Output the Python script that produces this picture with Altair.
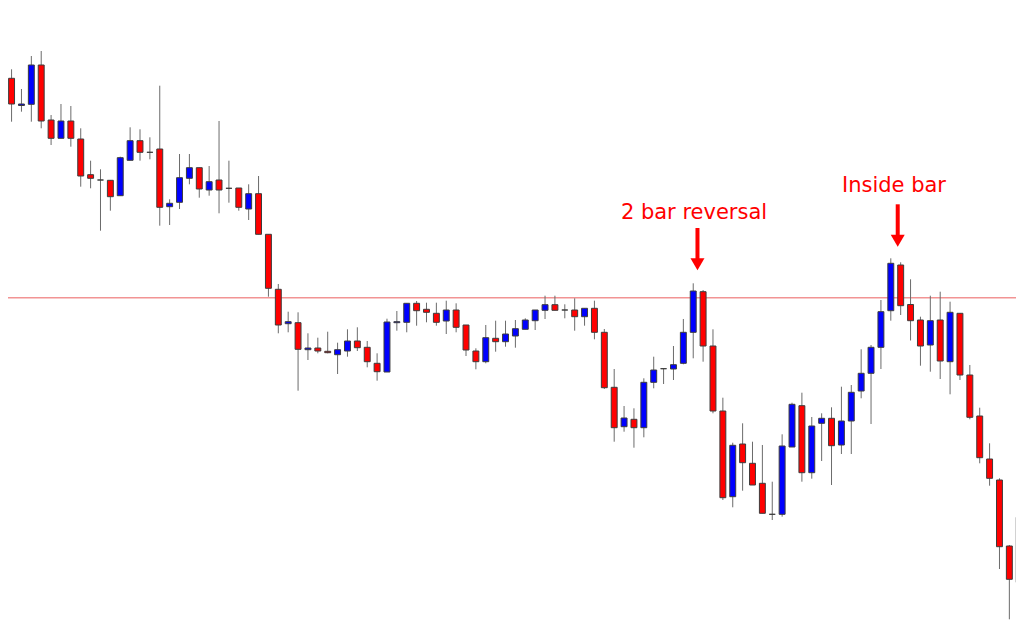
import altair as alt
import pandas as pd

# OHLC values (arbitrary price units)
open_ = [576.7, 561.7, 534.5, 535.7, 575, 520, 501.7, 519, 501, 465.3,
         460, 459.7, 444.3, 479.7, 499.3, 487.7, 491, 433.3, 437.7, 461.7,
         472.3, 450, 460, 451.7, 452, 431, 446.3, 405.7, 350.7, 316.3,
         317.3, 290.3, 292, 288.7, 285.3, 289, 299, 292.7, 276.7, 268,
         317.3, 317.7, 336.7, 330.7, 326.7, 319, 330, 315, 289, 278.3,
         301.7, 298.3, 304, 310.7, 319.3, 329.7, 335.3, 330, 330, 323.3,
         331.7, 307.7, 252.7, 213.3, 220.7, 212.3, 257.7, 271.3, 271, 276.7,
         307.7, 348.3, 294, 229, 143.3, 196, 176.7, 156.7, 125.7, 125.7,
         193, 234.3, 167.3, 216.7, 221.7, 195, 219, 249, 266.7, 292.7,
         329.3, 375, 335.5, 320, 295, 320, 278.3, 326.7, 265, 224,
         181, 160, 94, 57.7]
high = [577, 570.7, 551, 584, 589, 525, 536, 534, 511.7, 479.3,
        470.7, 460, 483.3, 512.7, 510.7, 502.7, 554.3, 440.7, 486, 486,
        472.3, 474, 519, 479.3, 452, 455.7, 464, 405.7, 356, 328.3,
        327.7, 306.7, 302.3, 308.3, 297.3, 310.7, 312.7, 299, 286.7, 321.3,
        329, 336.7, 339, 337.3, 337.3, 339.3, 336.7, 315, 291.7, 315,
        319.3, 319.3, 320, 321.7, 330, 344.3, 344.3, 335.7, 341.7, 331.7,
        339.3, 311, 271, 234, 231.7, 261.7, 283.3, 271.3, 294, 321,
        356.7, 350, 310.7, 242.3, 197.3, 216.7, 198.3, 195, 158.3, 205.7,
        237.3, 247.3, 223, 226.7, 232.7, 253.3, 255, 290.7, 295, 340,
        381.7, 377.7, 360.7, 323.3, 344.3, 348.3, 338.3, 326.7, 275, 232.3,
        196.7, 161.7, 95, 128.3]
low = [543.3, 518.3, 528.3, 518.3, 511.7, 495, 501.7, 493.3, 453.3, 451.7,
       409.3, 429.3, 444.3, 479.7, 479.3, 480.7, 414.3, 415, 431, 455.7,
       442.3, 444.3, 426.7, 437.3, 429.3, 420, 405.7, 343.3, 306.7, 307.7,
       249.3, 280, 286.7, 286.7, 266, 283.3, 289, 272.7, 259.3, 268,
       309.3, 307.7, 314.3, 317.7, 314.3, 306, 307.7, 284, 270.7, 276.7,
       288.3, 293.3, 292.3, 310.7, 310, 321, 329.7, 321.7, 309.3, 314.3,
       300.7, 251, 198.3, 208.3, 192.3, 202.7, 251.7, 256, 260, 275.7,
       281.7, 278.3, 226.7, 140, 132.7, 149.3, 155, 126.7, 120, 123.3,
       193, 158.3, 161.3, 179, 155, 186, 186, 241.7, 216, 271,
       319.3, 325, 299.5, 274.3, 268.3, 261, 245.7, 260, 220.7, 176.7,
       154.3, 71, 20.7, 43.3]
close = [562.7, 536, 536, 575, 519, 501.7, 519, 501.7, 464, 461.7,
         460, 443.3, 482.3, 499.3, 487.7, 487.7, 432.7, 436.7, 462.3, 472.3,
         451, 458.3, 450, 451.7, 432.7, 446.3, 405.7, 351.7, 315, 318.3,
         290.7, 292, 289, 287.3, 290.3, 299, 292.3, 278.3, 268.3, 318,
         318.3, 336.7, 329.3, 327.7, 317.7, 330, 312.7, 290, 278.3, 302.3,
         298.3, 306, 311.3, 320, 330, 335.3, 329.7, 330, 323.3, 331.7,
         307.7, 252.3, 212.3, 222, 212.3, 257.7, 270, 271.3, 275.3, 307.7,
         349, 294, 229, 142.3, 194.7, 177.3, 155, 126.7, 125.7, 194,
         235.7, 167.3, 214, 221.7, 194.3, 219, 247.7, 266.7, 292.7, 328.3,
         376.7, 334.3, 319.3, 294, 319.3, 279, 327.7, 265, 222.7, 182.3,
         161.7, 93.3, 60.7, 122.7]

level = [342.3]

labels = ["2 bar reversal", "Inside bar"]
label_x = [70.08, 90.32]
label_y = [421, 448]
arrow_x = [70.43, 90.70]
arrow_top = [412, 435.7]
arrow_bottom = [380, 403]
arrow_head = [375.8, 399.2]

df = pd.DataFrame({"i": list(range(len(open_))), "open": open_, "high": high,
                   "low": low, "close": close})
ann = pd.DataFrame({"label": labels, "lx": label_x, "ly": label_y,
                    "ax": arrow_x, "atop": arrow_top, "abot": arrow_bottom,
                    "ahead": arrow_head})
lvl = pd.DataFrame({"level": level})

xs = alt.Scale(domain=[0.638, 102.673], nice=False, zero=False)
ys = alt.Scale(domain=[20, 632], nice=False, zero=False)

base = alt.Chart(df)

wicks = base.mark_rule(color="#6b6b6b", strokeWidth=1).encode(
    x=alt.X("i:Q", scale=xs, axis=None),
    y=alt.Y("low:Q", scale=ys, axis=None),
    y2="high:Q",
)

bodies = base.transform_calculate(
    x0="datum.i - 0.3", x1="datum.i + 0.3"
).mark_rect(stroke="#3c3c3c", strokeWidth=1).encode(
    x=alt.X("x0:Q", scale=xs, axis=None),
    x2="x1:Q",
    y=alt.Y("open:Q", scale=ys, axis=None),
    y2="close:Q",
    fill=alt.condition("datum.close >= datum.open", alt.value("#0000FF"), alt.value("#FF0000")),
)

level_line = alt.Chart(lvl).mark_rule(stroke="#F29494", strokeWidth=1.5, opacity=1).encode(
    y=alt.Y("level:Q", scale=ys, axis=None)
)

texts = alt.Chart(ann).mark_text(
    font="DejaVu Sans", fontSize=21, color="#FF0000", align="center", baseline="alphabetic"
).encode(
    x=alt.X("lx:Q", scale=xs, axis=None),
    y=alt.Y("ly:Q", scale=ys, axis=None),
    text="label:N",
)

shafts = alt.Chart(ann).mark_rule(color="#FF0000", strokeWidth=4).encode(
    x=alt.X("ax:Q", scale=xs, axis=None),
    y=alt.Y("atop:Q", scale=ys, axis=None),
    y2="abot:Q",
)

heads = alt.Chart(ann).mark_point(
    shape="M-1,-0.85 L1,-0.85 L0,0.85 Z", size=196, filled=True, color="#FF0000",
    opacity=1, strokeWidth=0
).encode(
    x=alt.X("ax:Q", scale=xs, axis=None),
    y=alt.Y("ahead:Q", scale=ys, axis=None),
)

chart = alt.layer(level_line, wicks, bodies, shafts, heads, texts).properties(
    width=1008, height=612, padding=0, autosize="none", background="white"
).configure_view(stroke=None)

chart.save("out.html", embed_options={"renderer": "svg", "actions": False})
